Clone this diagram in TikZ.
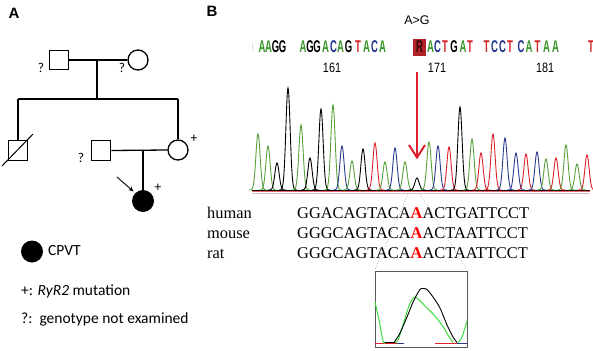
\documentclass[tikz,border=0pt]{standalone}
\usepackage{graphicx}
\usepackage{fontspec}
\setmainfont{Liberation Serif}
\setsansfont{Liberation Sans}
\newfontfamily\calib{Carlito}
\usetikzlibrary{arrows.meta}
\definecolor{pgreen}{RGB}{88,160,58}
\definecolor{pblue}{RGB}{40,58,140}
\definecolor{pred}{RGB}{222,32,42}
\definecolor{sgreen}{RGB}{56,150,40}
\definecolor{sblue}{RGB}{30,52,140}
\definecolor{sred}{RGB}{210,36,40}
\definecolor{rbox}{RGB}{178,34,38}
\definecolor{insetgreen}{RGB}{60,220,60}
\newcommand\pk[3]{\draw[#1,line width=0.9pt] plot[domain=-9:9,samples=45] ({#2+\x},{190-(190-#3)*exp(-((\x)*(\x))/9)});}
\newcommand\sq[3]{\node[seqlet,text=#2] at (#1,47) {\scalebox{0.56}[1]{#3}};}
\begin{document}
\begin{tikzpicture}[x=1pt,y=-1pt,
  ped/.style={line width=1.3pt},
  male/.style={draw,rectangle,line width=1.3pt,minimum size=19.5pt,inner sep=0pt},
  female/.style={draw,circle,line width=1.3pt,minimum size=20pt,inner sep=0pt},
  affected/.style={circle,fill=black,minimum size=22pt,inner sep=0pt},
  pmark/.style={font=\calib\fontsize{13.5}{14}\selectfont,inner sep=0pt},
  panel/.style={font=\sffamily\bfseries\fontsize{15}{15}\selectfont,inner sep=0pt},
  legtext/.style={font=\calib\fontsize{15.5}{16}\selectfont,inner sep=0pt,anchor=base west},
  seqlet/.style={font=\sffamily\bfseries\fontsize{17}{17}\selectfont,inner sep=0pt},
  numlab/.style={font=\sffamily\fontsize{13.5}{14}\selectfont,inner sep=0pt},
  aligntext/.style={font=\fontsize{16.4}{17}\selectfont,inner sep=0pt,anchor=base west}]
\useasboundingbox (0,0) rectangle (593,350);
\fill[white] (0,0) rectangle (593,350);
%% ---------------- Panel A ----------------
\node[panel] (lA) at (14,13) {A};
\node[male] (gf) at (59,60) {};
\node[female] (gm) at (138,60) {};
\draw[ped] (gf.east) -- (gm.west);
\coordinate (m1) at (97,60);
\coordinate (sib) at (97,99);
\coordinate (sibL) at (18,99);
\coordinate (sibR) at (178,99);
\draw[ped] (m1) -- (sib);
\draw[ped] (sibL) -- (sibR);
\node[male] (dec) at (18,150.5) {};
\draw[line width=1pt] (2,166) -- (33,134);
\node[female] (mo) at (178,150) {};
\node[male] (fa) at (101,150.5) {};
\draw[ped] (sibL) -- (dec.north);
\draw[ped] (sibR) -- (mo.north);
\draw[ped] (fa.east) -- (mo.west);
\coordinate (m2) at (143,150);
\node[affected] (pb) at (143,201) {};
\draw[ped] (m2) -- (pb.north);
\coordinate (arrs) at (117,177);
\draw[line width=0.9pt,-{Stealth[length=5pt,width=4.5pt]}] (arrs) -- (133.5,191.5);
\node[pmark] (q1) at (41,67.5) {?};
\node[pmark] (q2) at (122,67.5) {?};
\node[pmark] (q3) at (81,157.5) {?};
\node[pmark] (p1) at (194,138.5) {+};
\node[pmark] (p2) at (158,187.5) {+};
%% legend
\node[affected] (legc) at (32,251.5) {};
\node[legtext] (lcp) at (48,255) {CPVT};
\node[legtext] (lmut) at (21,295) {+: \textit{RyR2} mutation};
\node[legtext] (lgen) at (21,323.5) {?:\ \ genotype not examined};
%% ---------------- Panel B ----------------
\node[panel] (lB) at (212,11.5) {B};
\node[font=\sffamily\fontsize{12.5}{13}\selectfont,inner sep=0pt] (ag) at (417,20) {A>G};
% sequence
\fill[rbox] (413,39.5) rectangle (426,56);
\node[seqlet,text=black!70!rbox] (qR) at (419.5,47) {\scalebox{0.56}[1]{R}};
\fill[gray!25] (252,43) rectangle (253.2,51);
\sq{262}{sgreen}{A}\sq{268.5}{sgreen}{A}\sq{275.5}{black}{G}\sq{282.5}{black}{G}
\sq{303}{sgreen}{A}\sq{310}{black}{G}\sq{317}{black}{G}\sq{325.5}{sgreen}{A}
\sq{333.5}{sblue}{C}\sq{340.5}{sgreen}{A}\sq{348.5}{black}{G}\sq{358}{sred}{T}
\sq{366.5}{sgreen}{A}\sq{374.5}{sblue}{C}\sq{382.5}{sgreen}{A}
\sq{430.5}{sgreen}{A}\sq{437.5}{sblue}{C}\sq{445}{sred}{T}\sq{454}{black}{G}
\sq{463}{sgreen}{A}\sq{470}{sred}{T}\sq{486.5}{sred}{T}\sq{494.5}{sblue}{C}
\sq{502.5}{sblue}{C}\sq{510}{sred}{T}\sq{521}{sblue}{C}\sq{529}{sgreen}{A}
\sq{537.5}{sred}{T}\sq{546.5}{sgreen}{A}\sq{555.5}{sgreen}{A}
\begin{scope}
\clip (0,0) rectangle (593,350);
\sq{591}{sred}{T}
\end{scope}
\node[numlab] (n161) at (332,67.5) {\scalebox{0.8}[1]{161}};
\node[numlab] (n171) at (437,67.5) {\scalebox{0.8}[1]{171}};
\node[numlab] (n181) at (545,67.5) {\scalebox{0.8}[1]{181}};
% chromatogram baseline
\coordinate (bl) at (252,190.5);
\coordinate (br) at (590,190.5);
\draw[gray!55!pred!40,line width=1.1pt] (252,193.5) -- (590,193.5);
\draw[pred!70,line width=0.6pt] (252,191.2) -- (590,191.2);
\draw[black,line width=0.7pt] (bl) -- (br);
% peaks
\pk{pgreen}{258}{134}
\pk{pgreen}{268}{146}
\pk{black}{277}{163}
\pk{black}{288}{88}
\pk{pgreen}{301}{125}
\pk{black}{310}{158}
\pk{black}{321}{109}
\pk{pgreen}{333}{105}
\pk{pblue}{342}{146}
\pk{pgreen}{352}{161}
\pk{black}{363}{149}
\pk{pred}{375}{143}
\pk{pgreen}{385}{162}
\pk{pblue}{395}{148}
\pk{pgreen}{405}{162}
\pk{black}{417}{178}
\pk{pgreen}{429}{142}
\pk{pblue}{438}{146}
\pk{pred}{449}{147}
\pk{black}{460}{107}
\pk{pgreen}{472}{139}
\pk{pred}{481}{153}
\pk{pred}{493}{134}
\pk{pblue}{505}{138}
\pk{pblue}{516}{153}
\pk{pred}{526}{154}
\pk{pblue}{537}{152}
\pk{pgreen}{546}{159}
\pk{pred}{556}{158}
\pk{pgreen}{566}{145}
\pk{pgreen}{577}{164}
\pk{pred}{587}{155}
% red arrow
\coordinate (ra) at (417,72);
\coordinate (rb) at (417,157.5);
\draw[pred,line width=2pt] (ra) -- (rb);
\draw[pred,line width=2pt,line join=miter] (409,145) -- (rb) -- (425,145);
% alignment
\node[aligntext] (hum) at (207,218) {human};
\node[aligntext] (mou) at (207,238) {mouse};
\node[aligntext] (rat) at (207,258) {rat};
\node[aligntext] (shum) at (297,218) {GGACAGTACA\textcolor{red}{\textbf{A}}ACTGATTCCT};
\node[aligntext] (smou) at (297,238) {GGGCAGTACA\textcolor{red}{\textbf{A}}ACTAATTCCT};
\node[aligntext] (srat) at (297,258) {GGGCAGTACA\textcolor{red}{\textbf{A}}ACTAATTCCT};
% inset
\node[draw=gray!70!black,line width=0.8pt,minimum width=92pt,minimum height=76pt,inner sep=0pt] (inset) at (421,309) {};
\coordinate (dl) at (408,194);
\coordinate (dr) at (420,194);
\draw[gray!70,dotted,line width=0.7pt] (dl) -- (inset.north west);
\draw[gray!70,dotted,line width=0.7pt] (dr) -- (inset.north east);
\begin{scope}
\clip (inset.south west) rectangle (inset.north east);
\draw[pred,line width=1.2pt] (375,343.5) -- (397,343.5);
\draw[pblue,line width=1.2pt] (397,343.5) -- (404,343.5);
\draw[pred,line width=1.2pt] (435,343.5) -- (457,343.5);
\draw[pblue,line width=1.2pt] (457,343.5) -- (467,343.5);
\draw[black,line width=1pt] (383,342.5) -- (396,342.5);
\draw[insetgreen,line width=1pt] plot[smooth,tension=0.6] coordinates {(375,302) (379,320) (383,341) (385,342.5)};
\draw[insetgreen,line width=1pt] plot[smooth,tension=0.6] coordinates {(395,342.5) (398,340) (403,325) (409,306) (414,297.5) (418,299) (426,307) (434,315) (442,325) (448,335) (453,342.5)};
\draw[insetgreen,line width=1pt] plot[smooth,tension=0.6] coordinates {(458,342.5) (462,337) (467,321)};
\draw[black,line width=0.9pt] plot[smooth,tension=0.5] coordinates {(394,342.5) (400,333) (407,317) (414,300) (420,289.5) (423,288.5) (427,289.5) (433,297) (440,308) (447,325) (453,337) (457,342.5)};
\end{scope}
\end{tikzpicture}
\end{document}
